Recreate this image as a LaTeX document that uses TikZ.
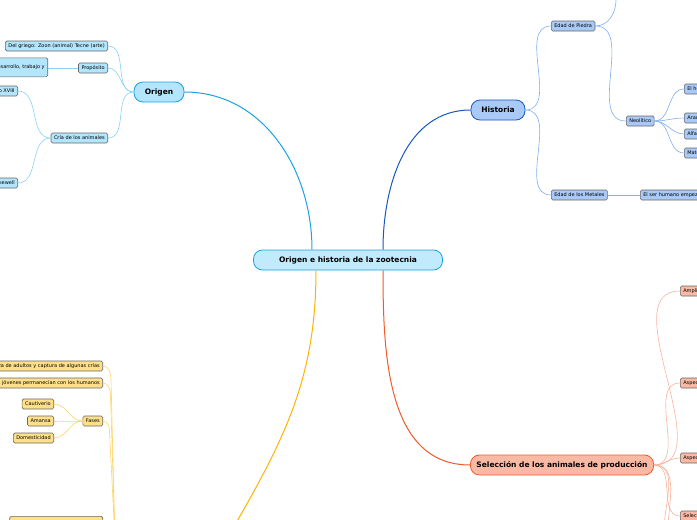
\documentclass[tikz,border=0pt]{standalone}
\usepackage{fontspec}
\setmainfont{DejaVu Sans}
\usetikzlibrary{calc}
\begin{document}
\begin{tikzpicture}[x=1pt,y=1pt,
 box/.style={draw=gray!80!black,line width=0.6pt,rounded corners=1.5pt,font=\fontsize{5}{6}\selectfont,inner xsep=3pt,inner ysep=2pt,minimum height=10pt},
 bbox/.style={box,fill=bl},
 hbox/.style={box,fill=hb},
 sbox/.style={box,fill=sb},
 ybox/.style={box,fill=yb},
 main/.style={rounded corners=9pt,line width=0.8pt,font=\bfseries\fontsize{7.5}{8}\selectfont,minimum height=20pt,inner xsep=6pt},
 bl1/.style={draw=ob,line width=1pt},
 bl2/.style={draw=ol,line width=0.6pt},
 hl1/.style={draw=hd,line width=1pt},
 hl2/.style={draw=hlc,line width=0.6pt},
 sl1/.style={draw=sd,line width=1pt},
 sl2/.style={draw=slc,line width=0.6pt},
 yl1/.style={draw=yd,line width=1pt},
 yl2/.style={draw=ylc,line width=0.6pt}]
\definecolor{bl}{HTML}{B3E5FC}\definecolor{ob}{HTML}{1BA1E2}\definecolor{ol}{HTML}{8AD2F2}
\definecolor{hb}{HTML}{A9C9F7}\definecolor{hd}{HTML}{1558C0}\definecolor{hlc}{HTML}{7FAEEE}
\definecolor{sb}{HTML}{F9B9A5}\definecolor{sd}{HTML}{F05A28}\definecolor{slc}{HTML}{F7B39B}
\definecolor{yb}{HTML}{FFE08A}\definecolor{yd}{HTML}{FFB300}\definecolor{ylc}{HTML}{FFD466}
\useasboundingbox (0,0) rectangle (697,-520);
\clip (0,0) rectangle (697,-520);
% central
\node[main,fill=bl!80!white,draw=ob,minimum width=189pt] (c) at (348,-260) {Origen e historia de la zootecnia};
% Origen
\node[main,fill=bl,draw=ob,minimum width=50pt] (o) at (159,-92) {Origen};
\node[bbox,anchor=east] (o1) at (108,-46) {Del griego: Zoon (animal) Tecne (arte)};
\node[bbox,anchor=east] (o2) at (108,-68) {Propósito};
\node[bbox,anchor=north east,minimum height=19pt,align=left] (o21) at (48,-57.5) {Mejorar el desarrollo, trabajo y};
\node[bbox,anchor=east] (o3) at (108,-138) {Cría de los animales};
\node[bbox,anchor=east] (o31) at (18,-91) {Siglo XVIII};
\node[bbox,anchor=east] (o32) at (18,-183) {Robert Bakewell};
\draw[bl1] (c.north -| 312,0) to[out=90,in=0] (o.east);
\draw[bl2] (o.west) to[out=180,in=0] (o1.east);
\draw[bl2] (o.west) to[out=180,in=0] (o2.east);
\draw[bl2] (o.west) to[out=180,in=0] (o3.east);
\draw[bl2] (o2.west) -- (o2.west -| o21.east);
\draw[bl2] (o3.west) to[out=180,in=0] (o31.east);
\draw[bl2] (o3.west) to[out=180,in=0] (o32.east);
% Historia
\node[main,fill=hb,draw=hd,minimum width=54pt] (h) at (498,-110) {Historia};
\node[hbox,anchor=west] (h1) at (551,-26) {Edad de Piedra};
\node[hbox,anchor=west] (h11) at (626,-121) {Neolítico};
\node[hbox,anchor=west] (n1) at (684,-89) {El hombre};
\node[hbox,anchor=west] (n2) at (684,-118) {Arado};
\node[hbox,anchor=west] (n3) at (684,-134) {Alfarería};
\node[hbox,anchor=west] (n4) at (684,-153) {Materiales};
\node[hbox,anchor=west] (h2) at (551,-195) {Edad de los Metales};
\node[hbox,anchor=west] (h21) at (640,-195) {El ser humano empezó};
\draw[hl1] (c.north -| 383,0) to[out=90,in=180] (h.west);
\draw[hl2] (h.east) to[out=0,in=180] (h1.west);
\draw[hl2] (h.east) to[out=0,in=180] (h2.west);
\draw[hl2] (h1.east) to[out=0,in=-90] (616,0);
\draw[hl2] (h1.east) to[out=0,in=180] (h11.west);
\foreach \n in {n1,n2,n3,n4} \draw[hl2] (h11.east) to[out=0,in=180] (\n.west);
\draw[hl2] (h2.east) -- (h21.west);
% Seleccion
\node[main,fill=sb,draw=sd,minimum width=181pt] (s) at (562,-465) {Selección de los animales de producción};
\node[sbox,anchor=west] (s1) at (680,-291) {Amplitud};
\node[sbox,anchor=west] (s2) at (680,-383) {Aspectos};
\node[sbox,anchor=west] (s3) at (680,-458) {Aspectos};
\node[sbox,anchor=west] (s4) at (680,-516) {Selección};
\draw[sl1] (c.south -| 383,0) to[out=-90,in=180] (s.west);
\foreach \n in {s1,s2,s3,s4} \draw[sl2] (s.east) to[out=0,in=180] (\n.west);
\draw[sl2] (s.east) to[out=0,in=90] (668,-530);
\draw[sl2] (s.east) to[out=0,in=90] (664,-530);
% Yellow branch
\draw[yl1] (c.south -| 316,0) to[out=-90,in=60] (232,-530);
\node[ybox,anchor=east] (y1) at (103,-366) {Caza de adultos y captura de algunas crías};
\node[ybox,anchor=east] (y2) at (103,-383) {Los jóvenes permanecían con los humanos};
\node[ybox,anchor=east] (y3) at (103,-421) {Fases};
\node[ybox,anchor=east] (y31) at (54,-404) {Cautiverio};
\node[ybox,anchor=east] (y32) at (54,-421) {Amansa};
\node[ybox,anchor=east] (y33) at (54,-438) {Domesticidad};
\node[ybox,anchor=north east,minimum width=93pt] (y4) at (103,-516) {};
\coordinate (yh) at (115,-540);
\draw[yl2] (yh) -- (111,-380) to[out=90,in=0] (y1.east);
\draw[yl2] (yh) -- (110.5,-396) to[out=90,in=0] (y2.east);
\draw[yl2] (yh) -- (109.5,-432) to[out=90,in=0] (y3.east);
\draw[yl2] (yh) to[out=90,in=0] (y4.east);
\foreach \n in {y31,y32,y33} \draw[yl2] (y3.west) to[out=180,in=0] (\n.east);
\end{tikzpicture}
\end{document}
